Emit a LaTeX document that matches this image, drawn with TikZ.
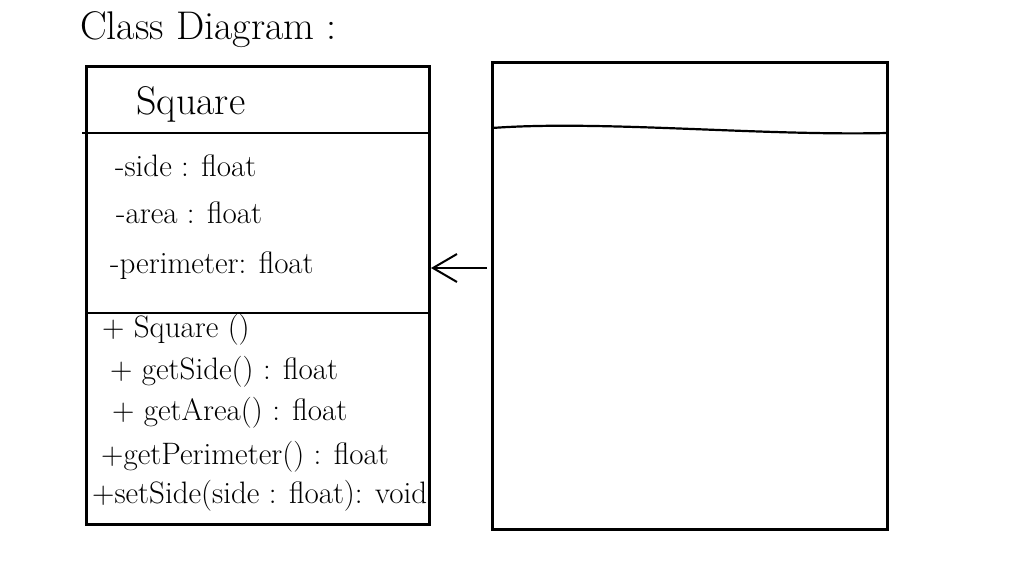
\documentclass[tikz,border=0pt]{standalone}
\usetikzlibrary{arrows.meta}
\begin{document}
\begin{tikzpicture}[x=1pt, y=-1pt,
  classbox/.style={draw, line width=3pt, inner sep=0pt, outer sep=0pt},
  divider/.style={line width=2.2pt},
  member/.style={anchor=west, inner sep=0pt, font=\fontsize{31}{33}\selectfont},
  assoc/.style={line width=1.6pt, -{Straight Barb[length=24pt, width=28pt, line width=2pt]}, shorten >=2pt}]
  \useasboundingbox (0,0) rectangle (1024,576);

  % Title
  \node[anchor=west, inner sep=0pt, font=\fontsize{40}{42}\selectfont] (title) at (80,30) {Class Diagram :};

  % Boxes
  \node[classbox, minimum width=343pt, minimum height=458pt] (square) at (257.5,295) {};
  \node[classbox, minimum width=395pt, minimum height=467pt] (blank) at (689.5,295.5) {};

  % Compartments
  \draw[divider] (82,133) -- (square.east |- 0,133);
  \draw[divider] (square.west |- 0,313) -- (square.east |- 0,313);
  \draw[divider] (blank.west |- 0,128) .. controls (600,120) and (760,136) .. (blank.east |- 0,133);

  % Class name
  \node[member, font=\fontsize{40}{42}\selectfont] (sqName) at (136,104) {Square};

  % Attributes
  \node[member] (sqSide) at (115,166) {-side : float};
  \node[member] (sqArea) at (116,213) {-area : float};
  \node[member] (sqPerim) at (110,266) {-perimeter: float};

  % Methods
  \node[member] (sqCtor) at (102,330) {+ Square ()};
  \node[member] (sqGetSide) at (110,372) {+ getSide() : float};
  \node[member] (sqGetArea) at (112,413) {+ getArea() : float};
  \node[member] (sqGetPerim) at (101,457) {+getPerimeter() : float};
  \node[member] (sqSetSide) at (92,496) {+setSide(side : float): void};

  % Association
  \coordinate (arrowStart) at (487,268);
  \draw[assoc] (arrowStart) -- (square.east |- arrowStart);
\end{tikzpicture}
\end{document}
